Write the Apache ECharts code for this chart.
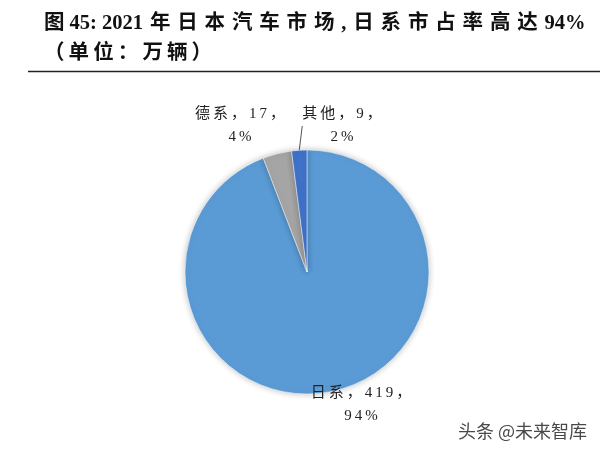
<!DOCTYPE html>
<html>
<head>
<meta charset="utf-8">
<style>html,body{margin:0;padding:0;background:#fff;}#c{width:600px;height:454px;}</style>
<script src="https://cdn.jsdelivr.net/npm/echarts@6/dist/echarts.min.js"></script>
</head>
<body>
<div id="c"></div>
<script>
const categories = ['日系', '德系', '其他'];
const values = [419, 17, 9];
const colors = ['#5B9BD5', '#A5A5A5', '#3F72C8'];
const titleText = '图 45: 2021年日本汽车市场,日系市占率高达94%';
const subText = '（单位：万辆）';

const labelPos = { '日系': [361, 405], '德系': [240, 126], '其他': [342, 126] };

// widen text by inserting small spaces around CJK characters (typographic spacing only)
const isCJK = ch => /[\u3000-\u9fff\uff00-\uffef]/.test(ch);
function spaced(s, sp) {
  let out = '';
  for (let i = 0; i < s.length; i++) {
    out += s[i];
    if (i < s.length - 1 && s[i] !== ' ' && s[i + 1] !== ' ' && s[i] !== '\n' && s[i + 1] !== '\n' &&
        (isCJK(s[i]) || isCJK(s[i + 1]))) out += sp;
  }
  return out;
}
function spacedAll(s, sp) {
  return s.split('\n').map(l => l.split('').join(sp)).join('\n');
}

const chart = echarts.init(document.getElementById('c'));
chart.setOption({
  backgroundColor: '#fff',
  animation: false,
  title: {
    text: spaced(titleText, '\u2004'),
    subtext: spacedAll(subText, '\u2009'),
    left: 39, top: 8,
    itemGap: 10,
    textStyle: { fontFamily: '"Liberation Serif", "Noto Sans CJK SC"', fontWeight: 'bold', fontSize: 20.5, color: '#111' },
    subtextStyle: { fontFamily: '"Liberation Serif", "Noto Sans CJK SC"', fontWeight: 'bold', fontSize: 20.5, color: '#111' }
  },
  graphic: [
    { type: 'line', shape: { x1: 28, y1: 71.5, x2: 600, y2: 71.5 }, style: { stroke: '#222', lineWidth: 1.5 } },
    { type: 'text', left: 458, top: 422, style: { text: '头条 @未来智库', fontSize: 18, fontFamily: '"Noto Sans CJK SC"', fill: 'rgba(40,40,40,0.85)' } }
  ],
  series: [{
    type: 'pie',
    center: [307, 272],
    radius: 122,
    startAngle: 90,
    clockwise: true,
    percentPrecision: 0,
    itemStyle: { borderColor: '#fff', borderWidth: 0.5, shadowBlur: 6, shadowColor: 'rgba(0,0,0,0.25)' },
    label: {
      show: true,
      position: 'outside',
      formatter: p => spacedAll(p.name + '，' + p.value + '，\n' + p.percent + '%', '\u2009'),
      fontFamily: '"Liberation Serif", "Noto Sans CJK SC"',
      fontSize: 15,
      lineHeight: 23,
      color: '#222',
      align: 'center'
    },
    labelLine: { show: false, lineStyle: { color: '#555', width: 1 }, length: 8, length2: 0 },
    labelLayout: function (params) {
      const pos = labelPos[categories[params.dataIndex]];
      return { x: pos[0], y: pos[1], align: 'center', verticalAlign: 'middle' };
    },
    data: categories.map((c, i) => ({
      name: c,
      value: values[i],
      itemStyle: { color: colors[i] },
      labelLine: { show: c === '其他' }
    }))
  }]
});
</script>
</body>
</html>
